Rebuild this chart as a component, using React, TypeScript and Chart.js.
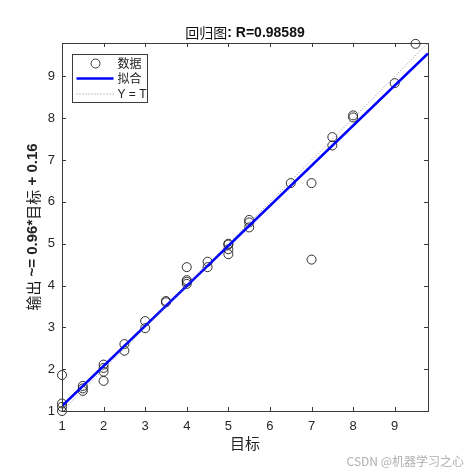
import React, { useEffect, useRef } from "react";
import { Chart, registerables } from "chart.js";

Chart.register(...registerables);

const targets = [1, 1, 1, 1, 1.5, 1.5, 1.5, 2, 2, 2, 2, 2.5, 2.5, 3, 3, 3.5, 3.5, 4, 4, 4, 4, 4.5, 4.5, 5, 5, 5, 5, 5.5, 5.5, 5.5, 6.5, 7, 7, 7.5, 7.5, 8, 8, 9, 9.5];
const outputs = [1.86, 1.18, 1.1, 1.0, 1.6, 1.54, 1.48, 2.11, 2.03, 1.94, 1.72, 2.6, 2.44, 3.15, 2.98, 3.63, 3.6, 4.44, 4.13, 4.09, 4.04, 4.57, 4.44, 5.0, 4.98, 4.87, 4.75, 5.57, 5.51, 5.39, 6.45, 6.45, 4.62, 7.55, 7.35, 8.07, 8.02, 8.84, 9.78];
const fitX = [1, 9.8];
const fitY = [1.12, 9.55];
const identityX = [1, 9.8];
const identityY = [1, 9.8];
const tickValues = [1, 2, 3, 4, 5, 6, 7, 8, 9];
const axisMin = 1;
const axisMax = 9.8;

const titleText = [
  { t: "回归图", bold: false },
  { t: ": R=0.98589", bold: true },
];
const yLabelText = [
  { t: "输出", bold: false },
  { t: " ~= 0.96*", bold: true },
  { t: "目标", bold: false },
  { t: " + 0.16", bold: true },
];
const xLabelText = "目标";
const legendLabels = ["数据", "拟合", "Y = T"];
const watermark = "CSDN @机器学习之心";

const LATIN = '"Liberation Sans", Arial, sans-serif';
const CJK = '"Noto Sans CJK SC", sans-serif';
const AXIS_COLOR = "#3a3a3a";

function segFont(bold: boolean, size: number, cjk: boolean) {
  return `${bold ? "bold " : ""}${size}px ${cjk ? CJK : LATIN}`;
}

function drawSegs(ctx: CanvasRenderingContext2D, segs: { t: string; bold: boolean }[], size: number, cx: number, cy: number) {
  const fonts = segs.map((s) => segFont(s.bold, size, !s.bold));
  const widths = segs.map((s, i) => {
    ctx.font = fonts[i];
    return ctx.measureText(s.t).width;
  });
  const total = widths.reduce((a, b) => a + b, 0);
  let x = cx - total / 2;
  ctx.textAlign = "left";
  ctx.textBaseline = "middle";
  segs.forEach((s, i) => {
    ctx.font = fonts[i];
    ctx.fillText(s.t, x, cy);
    x += widths[i];
  });
}

const decorPlugin = {
  id: "decor",
  afterDraw(chart: any) {
    const ctx: CanvasRenderingContext2D = chart.ctx;
    const { left, right, top, bottom } = chart.chartArea;
    const xs = chart.scales.x;
    const ys = chart.scales.y;
    ctx.save();
    // box
    ctx.strokeStyle = AXIS_COLOR;
    ctx.lineWidth = 1;
    ctx.strokeRect(Math.round(left) + 0.5, Math.round(top) + 0.5, Math.round(right - left), Math.round(bottom - top));
    // inward ticks
    const tl = 4;
    ctx.beginPath();
    tickValues.forEach((v) => {
      const px = Math.round(xs.getPixelForValue(v)) + 0.5;
      ctx.moveTo(px, bottom);
      ctx.lineTo(px, bottom - tl);
      ctx.moveTo(px, top);
      ctx.lineTo(px, top + tl);
      const py = Math.round(ys.getPixelForValue(v)) + 0.5;
      ctx.moveTo(left, py);
      ctx.lineTo(left + tl, py);
      ctx.moveTo(right, py);
      ctx.lineTo(right - tl, py);
    });
    ctx.stroke();

    // title
    ctx.fillStyle = "#111";
    drawSegs(ctx, titleText, 14, (left + right) / 2, 33);
    // x label
    ctx.font = segFont(false, 15, true);
    ctx.textAlign = "center";
    ctx.textBaseline = "middle";
    ctx.fillStyle = "#222";
    ctx.fillText(xLabelText, (left + right) / 2, 443);
    // y label
    ctx.save();
    ctx.translate(33, (top + bottom) / 2);
    ctx.rotate(-Math.PI / 2);
    ctx.fillStyle = "#222";
    drawSegs(ctx, yLabelText, 15, 0, 0);
    ctx.restore();

    // legend
    const lx = left + 10.5;
    const ly = top + 11.5;
    const lw = 75;
    const lh = 48;
    ctx.fillStyle = "#fff";
    ctx.fillRect(lx, ly, lw, lh);
    ctx.strokeStyle = AXIS_COLOR;
    ctx.lineWidth = 1;
    ctx.strokeRect(lx, ly, lw, lh);
    const rows = [ly + 9, ly + 24, ly + 39.5];
    // marker
    ctx.beginPath();
    ctx.arc(lx + 23, rows[0], 4.5, 0, Math.PI * 2);
    ctx.strokeStyle = "#222";
    ctx.lineWidth = 0.9;
    ctx.stroke();
    // fit line sample
    ctx.beginPath();
    ctx.moveTo(lx + 4, rows[1]);
    ctx.lineTo(lx + 41, rows[1]);
    ctx.strokeStyle = "#0000ff";
    ctx.lineWidth = 2.5;
    ctx.stroke();
    // identity sample
    ctx.beginPath();
    ctx.setLineDash([1, 2]);
    ctx.moveTo(lx + 4, rows[2]);
    ctx.lineTo(lx + 41, rows[2]);
    ctx.strokeStyle = "#888";
    ctx.lineWidth = 1;
    ctx.stroke();
    ctx.setLineDash([]);
    ctx.fillStyle = "#222";
    ctx.textAlign = "left";
    ctx.textBaseline = "middle";
    legendLabels.forEach((lab, i) => {
      ctx.font = i < 2 ? segFont(false, 12, true) : segFont(false, 12, false);
      ctx.fillText(lab, lx + 45, rows[i] + (i < 2 ? 0 : 0.5));
    });

    // watermark
    ctx.font = segFont(false, 12, true);
    ctx.fillStyle = "#b0b0b0";
    ctx.textAlign = "right";
    ctx.fillText(watermark, 464, 461);
    ctx.restore();
  },
};

export default function App() {
  const ref = useRef<HTMLCanvasElement | null>(null);
  useEffect(() => {
    if (!ref.current) return;
    const tickFont = { family: LATIN, size: 13 };
    const setTicks = (scale: any) => {
      scale.ticks = tickValues.map((v) => ({ value: v }));
    };
    const chart = new Chart(ref.current, {
      type: "scatter",
      data: {
        datasets: [
          {
            type: "line",
            label: "Y = T",
            data: identityX.map((x, i) => ({ x, y: identityY[i] })),
            borderColor: "#8a8a8a",
            borderWidth: 1,
            borderDash: [1, 2],
            pointRadius: 0,
            order: 0,
          } as any,
          {
            type: "line",
            label: "拟合",
            data: fitX.map((x, i) => ({ x, y: fitY[i] })),
            borderColor: "#0000ff",
            borderWidth: 2.5,
            pointRadius: 0,
            order: 1,
          } as any,
          {
            label: "数据",
            data: targets.map((x, i) => ({ x, y: outputs[i] })),
            pointStyle: "circle",
            pointRadius: 4.5,
            borderColor: "#1a1a1a",
            backgroundColor: "rgba(0,0,0,0)",
            borderWidth: 0.9,
            showLine: false,
            clip: false,
            order: 2,
          } as any,
        ],
      },
      options: {
        animation: false,
        responsive: true,
        maintainAspectRatio: false,
        layout: { padding: { left: 0, top: 43, right: 46, bottom: 0 } },
        plugins: { legend: { display: false }, title: { display: false }, tooltip: { enabled: false } },
        scales: {
          x: {
            type: "linear",
            min: axisMin,
            max: axisMax,
            afterBuildTicks: setTicks,
            afterFit: (s: any) => {
              s.height = 62;
            },
            grid: { display: false, drawTicks: false },
            border: { display: false },
            ticks: { font: tickFont, color: "#262626", padding: 8, maxRotation: 0 },
          },
          y: {
            type: "linear",
            min: axisMin,
            max: axisMax,
            afterBuildTicks: setTicks,
            afterFit: (s: any) => {
              s.width = 62;
            },
            grid: { display: false, drawTicks: false },
            border: { display: false },
            ticks: { font: tickFont, color: "#262626", padding: 7 },
          },
        },
      },
      plugins: [decorPlugin],
    });
    return () => chart.destroy();
  }, []);
  return (
    <div style={{ position: "fixed", left: 0, top: 0, width: 474, height: 473, background: "#fff" }}>
      <canvas ref={ref} />
    </div>
  );
}
